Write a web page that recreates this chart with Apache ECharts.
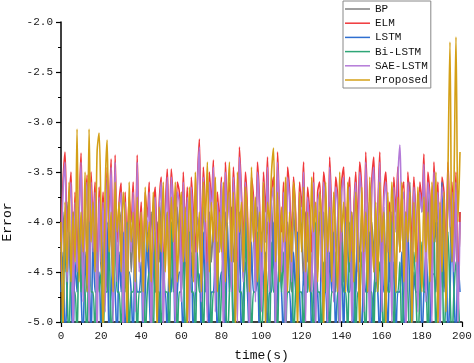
<!DOCTYPE html>
<html>
<head>
<meta charset="utf-8">
<script src="https://cdn.jsdelivr.net/npm/echarts@6/dist/echarts.min.js"></script>
<style>html,body{margin:0;padding:0;background:#fff}#c{width:474px;height:363px}</style>
</head>
<body>
<div id="c"></div>
<script>
const seriesNames = ['BP', 'ELM', 'LSTM', 'Bi-LSTM', 'SAE-LSTM', 'Proposed'];
const xTicks = [0, 20, 40, 60, 80, 100, 120, 140, 160, 180, 200];
const yTicks = [-5.0, -4.5, -4.0, -3.5, -3.0, -2.5, -2.0];

const bp = [
-4.3,-3.9,-4.5,-3.8,-4.2,-4.6,-3.9,-4.1,-4.5,-3.85,
-4.2,-4.6,-3.9,-4.3,-4.7,-3.8,-4.4,-4.0,-4.6,-3.9,
-4.5,-3.95,-4.3,-4.7,-3.85,-4.2,-4.6,-3.9,-4.4,-4.1,
-3.9,-4.6,-4.0,-4.4,-3.8,-4.5,-4.1,-4.7,-3.9,-4.3,
-4.0,-4.6,-3.85,-4.3,-4.5,-3.9,-4.2,-4.7,-4.0,-4.4,
-3.8,-4.5,-4.1,-3.9,-4.6,-4.0,-4.3,-4.7,-3.85,-4.2,
-4.5,-3.9,-4.4,-4.0,-4.7,-3.8,-4.3,-4.6,-3.95,-4.1,
-4.6,-3.85,-4.2,-4.5,-3.9,-4.4,-4.0,-4.7,-3.8,-4.3,
-4.0,-4.6,-3.9,-4.2,-4.5,-3.85,-4.4,-4.1,-4.7,-3.9,
-4.2,-4.6,-3.8,-4.3,-4.5,-3.9,-4.1,-4.6,-3.85,-4.3,
-4.6,-3.9,-4.2,-4.0,-4.7,-3.8,-4.4,-4.5,-3.9,-4.2,
-4.4,-3.85,-4.6,-4.0,-4.3,-4.7,-3.9,-4.2,-4.5,-3.8,
-4.1,-4.6,-3.9,-4.4,-4.0,-4.7,-3.85,-4.3,-4.5,-3.9,
-4.3,-3.9,-4.6,-4.1,-3.8,-4.5,-4.2,-4.7,-3.9,-4.4,
-4.0,-4.6,-3.85,-4.3,-4.5,-3.9,-4.2,-4.7,-4.0,-4.4,
-3.9,-4.5,-4.1,-3.8,-4.6,-4.0,-4.3,-4.7,-3.9,-4.2,
-4.5,-3.85,-4.4,-4.0,-4.6,-3.9,-4.2,-4.7,-3.8,-4.3,
-3.7,-4.5,-3.9,-4.2,-3.6,-4.4,-3.75,-4.1,-4.6,-3.65,
-3.9,-3.55,-4.3,-3.7,-4.5,-3.8,-3.6,-4.2,-3.75,-4.6,
-3.85,-4.1,-4.5,-3.7,-4.0,-4.4,-3.8,-4.2,-4.6,-3.9
];
const elm = [
-4.2,-3.6,-3.3,-4.1,-3.8,-3.5,-4.6,-3.7,-4.3,-3.9,
-3.31,-4.4,-3.9,-3.53,-4.7,-3.5,-4.0,-3.6,-4.8,-3.65,
-4.1,-3.7,-4.5,-3.45,-3.9,-3.37,-4.6,-3.33,-4.2,-3.8,
-3.61,-4.9,-3.7,-4.3,-3.75,-4.0,-3.6,-4.5,-3.33,-4.2,
-3.8,-4.6,-3.7,-3.95,-3.6,-5.1,-3.9,-3.65,-4.4,-3.8,
-3.55,-4.7,-3.9,-3.47,-4.2,-3.47,-3.85,-4.6,-3.6,-3.7,
-4.5,-3.5,-4.1,-3.65,-4.8,-3.55,-3.9,-4.3,-3.6,-3.17,
-4.4,-3.45,-3.9,-4.7,-3.5,-3.8,-3.38,-4.5,-3.7,-4.0,
-3.55,-4.9,-3.4,-3.85,-3.6,-4.3,-3.45,-3.95,-4.6,-3.25,
-3.7,-4.2,-3.5,-3.9,-4.8,-3.55,-3.75,-4.4,-3.4,-3.8,
-4.6,-3.5,-3.9,-3.35,-4.3,-3.7,-3.55,-4.7,-3.3,-3.85,
-4.1,-3.6,-4.9,-3.45,-3.7,-4.2,-3.55,-3.9,-4.5,-3.6,
-3.85,-3.4,-4.6,-3.65,-3.9,-4.3,-3.5,-4.8,-3.7,-3.6,
-4.2,-3.5,-3.8,-4.7,-3.35,-3.9,-4.4,-3.55,-3.75,-4.9,
-3.6,-3.45,-4.3,-3.8,-3.55,-4.6,-3.9,-3.5,-4.1,-3.4,
-3.7,-4.5,-3.3,-3.95,-4.8,-3.6,-3.35,-4.2,-3.85,-3.3,
-4.6,-3.7,-3.5,-4.0,-3.8,-4.7,-3.55,-3.9,-3.45,-4.3,
-3.7,-3.6,-4.9,-3.5,-3.85,-4.2,-3.55,-3.95,-4.5,-3.6,
-3.8,-3.32,-4.4,-3.5,-3.75,-4.6,-3.4,-3.9,-3.6,-4.8,
-3.55,-3.7,-4.3,-3.4,-3.95,-3.6,-4.2,-3.5,-4.7,-3.9
];
const lstm = [
-4.7,-4.3,-5.2,-4.7,-4.1,-4.7,-5.2,-4.4,-4.7,-4.0,
-4.7,-5.2,-4.3,-4.7,-4.6,-5.2,-4.1,-4.7,-4.7,-4.5,
-5.2,-4.2,-4.7,-4.0,-5.2,-4.7,-4.4,-4.7,-5.2,-4.3,
-4.7,-4.1,-5.2,-4.7,-4.5,-4.7,-5.2,-4.2,-4.7,-4.7,
-4.4,-5.2,-4.7,-4.0,-4.7,-5.2,-4.3,-4.7,-4.6,-5.2,
-4.1,-4.7,-4.7,-5.2,-4.4,-4.7,-4.2,-5.2,-4.7,-4.5,
-4.7,-5.2,-4.0,-4.7,-4.7,-4.3,-5.2,-4.7,-4.52,-4.52,
-5.2,-4.1,-4.7,-4.4,-5.2,-4.7,-4.7,-4.2,-5.2,-4.7,
-4.5,-4.7,-5.2,-4.0,-4.7,-4.3,-5.2,-4.7,-4.7,-4.1,
-5.2,-4.7,-4.4,-4.7,-5.2,-4.2,-4.7,-4.7,-4.5,-5.2,
-4.1,-4.7,-4.3,-5.2,-4.7,-4.7,-4.0,-5.2,-4.7,-4.4,
-4.7,-5.2,-4.2,-4.7,-4.7,-5.2,-4.3,-4.7,-4.1,-4.7,
-5.2,-4.5,-4.7,-4.7,-4.0,-5.2,-4.7,-4.4,-4.7,-5.2,
-4.2,-4.7,-4.7,-5.2,-4.3,-4.7,-4.1,-5.2,-4.7,-4.7,
-4.5,-5.2,-4.0,-4.7,-4.7,-4.3,-5.2,-4.7,-4.2,-4.7,
-5.2,-4.4,-4.7,-4.7,-4.1,-5.2,-4.7,-4.5,-4.7,-5.2,
-4.2,-4.7,-4.7,-5.2,-4.0,-4.7,-4.4,-5.2,-4.7,-4.7,
-4.3,-5.2,-4.7,-4.1,-4.7,-5.2,-4.5,-4.7,-4.7,-4.2,
-5.2,-4.7,-4.3,-4.7,-5.2,-4.52,-4.52,-4.7,-4.0,-5.2,
-3.6,-4.7,-4.3,-5.2,-4.7,-4.1,-4.7,-5.2,-4.4,-4.7
];
const bilstm = [
-5.2,-4.7,-4.2,-4.7,-5.2,-4.4,-4.7,-4.7,-5.2,-4.1,
-4.7,-4.3,-4.7,-5.2,-4.0,-4.7,-4.7,-5.2,-4.3,-4.7,
-4.5,-5.2,-4.7,-4.7,-4.2,-5.2,-4.7,-4.1,-4.7,-4.7,
-5.2,-4.4,-4.7,-4.0,-5.2,-4.7,-4.7,-4.3,-5.2,-4.7,
-4.7,-4.2,-5.2,-4.7,-4.5,-4.7,-5.2,-4.1,-4.7,-4.7,
-5.2,-4.3,-4.7,-4.7,-5.2,-4.0,-4.7,-4.4,-5.2,-4.7,
-4.7,-4.2,-5.2,-4.7,-4.1,-4.7,-4.7,-5.2,-4.3,-4.7,
-4.7,-5.2,-4.4,-4.7,-4.0,-5.2,-4.7,-4.7,-4.2,-5.2,
-4.7,-4.3,-4.7,-5.2,-4.7,-4.1,-5.2,-4.7,-4.4,-4.7,
-4.7,-5.2,-4.0,-4.7,-4.3,-5.2,-4.7,-4.7,-4.1,-4.7,
-5.2,-4.7,-4.4,-4.7,-5.2,-4.2,-4.7,-4.7,-5.2,-4.0,
-4.7,-4.3,-5.2,-4.7,-4.7,-4.1,-5.2,-4.7,-4.4,-4.7,
-4.7,-5.2,-4.2,-4.7,-4.3,-4.7,-5.2,-4.0,-4.7,-4.7,
-5.2,-4.4,-4.7,-4.1,-5.2,-4.7,-4.7,-4.3,-4.7,-5.2,
-4.2,-4.7,-4.7,-5.2,-4.0,-4.7,-4.4,-5.2,-4.7,-4.7,
-4.3,-4.7,-5.2,-4.1,-4.7,-4.7,-5.2,-4.2,-4.7,-4.4,
-4.7,-5.2,-4.3,-4.7,-4.7,-4.0,-5.2,-4.7,-4.7,-4.4,
-5.2,-4.7,-4.1,-4.7,-5.2,-4.7,-4.3,-4.7,-5.2,-4.7,
-4.2,-4.7,-4.7,-5.2,-4.4,-4.7,-4.0,-5.2,-4.7,-4.7,
-4.3,-5.2,-4.7,-4.1,-4.7,-5.2,-4.7,-4.4,-4.7,-5.2
];
const saelstm = [
-4.5,-3.7,-3.4,-4.6,-3.9,-3.6,-5.1,-3.8,-4.5,-4.0,
-3.4,-4.8,-4.0,-3.6,-5.0,-3.6,-4.3,-3.7,-5.2,-3.75,
-4.4,-3.8,-4.9,-3.55,-4.1,-3.45,-5.0,-3.4,-4.6,-3.9,
-3.7,-5.2,-3.8,-4.6,-3.85,-4.3,-3.7,-4.9,-3.4,-4.5,
-3.9,-5.0,-3.8,-4.1,-3.7,-5.2,-4.1,-3.75,-4.8,-3.9,
-3.6,-5.1,-4.1,-3.55,-4.5,-3.55,-3.95,-5.0,-3.7,-3.8,
-4.8,-3.6,-4.4,-3.75,-5.1,-3.65,-4.1,-4.7,-3.7,-3.25,
-4.8,-3.55,-4.2,-5.0,-3.6,-3.9,-3.45,-4.9,-3.8,-4.3,
-3.6,-5.2,-3.5,-4.0,-3.7,-4.7,-3.55,-4.1,-5.0,-3.35,
-3.8,-4.6,-3.6,-4.1,-5.1,-3.65,-3.85,-4.8,-3.5,-3.9,
-4.9,-3.6,-4.2,-3.45,-4.7,-3.8,-3.65,-5.1,-3.4,-3.95,
-4.5,-3.7,-5.2,-3.55,-3.8,-4.6,-3.65,-4.0,-4.9,-3.7,
-4.0,-3.5,-5.0,-3.75,-4.1,-4.7,-3.6,-5.1,-3.8,-3.7,
-4.6,-3.6,-3.9,-5.0,-3.45,-4.1,-4.8,-3.65,-3.85,-5.2,
-3.7,-3.55,-4.6,-3.9,-3.65,-5.0,-4.0,-3.6,-4.5,-3.5,
-3.8,-4.9,-3.4,-4.1,-5.1,-3.7,-3.45,-4.6,-3.95,-3.4,
-4.9,-3.8,-3.6,-4.3,-3.9,-5.0,-3.65,-4.1,-3.55,-3.23,
-3.8,-3.7,-5.2,-3.6,-3.95,-4.6,-3.65,-4.05,-4.9,-3.7,
-3.9,-3.42,-4.8,-3.6,-3.85,-5.0,-3.5,-4.0,-3.7,-5.1,
-3.65,-3.8,-4.6,-3.5,-4.05,-3.7,-4.5,-3.6,-5.0,-4.0
];
const proposed = [
-4.0,-5.1,-3.8,-4.5,-3.6,-4.6,-3.9,-4.4,-3.07,-4.6,
-3.9,-4.3,-3.5,-4.7,-3.07,-4.2,-3.8,-4.5,-3.3,-3.11,
-4.0,-5.1,-3.7,-3.18,-4.3,-3.9,-4.7,-3.6,-4.1,-3.8,
-4.5,-3.7,-4.0,-5.1,-3.6,-4.2,-3.9,-4.6,-3.75,-4.4,
-3.9,-4.7,-3.65,-4.3,-4.0,-4.6,-3.7,-4.2,-5.1,-3.85,
-4.3,-3.6,-4.5,-3.9,-4.7,-3.75,-4.2,-3.6,-4.6,-4.0,
-3.7,-4.4,-3.85,-5.1,-3.65,-4.1,-4.6,-3.5,-4.3,-3.9,
-4.7,-3.6,-4.0,-3.4,-4.5,-3.8,-4.2,-3.55,-4.7,-3.9,
-4.3,-3.6,-4.6,-3.85,-3.4,-4.4,-3.7,-5.1,-3.5,-4.1,
-3.8,-4.5,-3.65,-4.0,-4.7,-3.45,-4.2,-3.75,-4.6,-3.9,
-4.3,-3.6,-5.1,-3.8,-4.0,-3.5,-3.26,-4.4,-3.7,-4.6,
-3.85,-4.2,-3.55,-4.7,-3.9,-4.4,-3.6,-4.0,-5.1,-3.7,
-4.3,-3.65,-4.5,-3.9,-4.7,-3.55,-4.1,-3.8,-4.6,-3.7,
-4.0,-5.1,-3.6,-4.3,-3.85,-4.6,-3.7,-4.2,-4.7,-3.5,
-4.1,-3.8,-4.7,-3.6,-4.4,-3.9,-4.6,-3.7,-4.2,-5.1,
-3.65,-4.3,-3.9,-4.7,-3.55,-4.1,-4.5,-3.8,-4.7,-3.6,
-4.2,-3.9,-5.1,-3.7,-4.4,-3.6,-4.0,-4.7,-3.75,-4.3,
-3.6,-4.6,-3.9,-4.2,-3.7,-5.1,-3.8,-4.4,-3.65,-4.1,
-4.7,-3.75,-4.3,-3.9,-4.6,-3.6,-4.2,-3.5,-5.1,-3.8,
-4.5,-3.7,-4.9,-3.5,-2.2,-4.4,-3.6,-2.15,-4.0,-3.3
];

const colors = ['#7f7f7f', '#f0373a', '#2f6fd0', '#2fa677', '#b47ad8', '#d4a017'];
const allData = [bp, elm, lstm, bilstm, saelstm, proposed];
const FONT = 'Liberation Mono';

const chart = echarts.init(document.getElementById('c'), null, {renderer: 'canvas'});
chart.setOption({
  animation: false,
  backgroundColor: '#fff',
  color: colors,
  grid: {left: 61, right: 12, top: 22, bottom: 41, outerBoundsMode: 'none', containLabel: false},
  legend: {
    orient: 'vertical', left: 343, top: 1,
    padding: [2, 3, 2, 2],
    itemWidth: 25, itemHeight: 12, itemGap: 2.2,
    icon: 'path://M0,0 L50,0 L50,3 L0,3 Z',
    backgroundColor: '#fff', borderColor: '#888', borderWidth: 1,
    textStyle: {fontFamily: FONT, fontSize: 11, color: '#111', lineHeight: 12},
    data: seriesNames
  },
  xAxis: {
    type: 'value', min: xTicks[0], max: xTicks[xTicks.length - 1], interval: 20,
    name: 'time(s)', nameLocation: 'middle', nameGap: 27,
    nameTextStyle: {fontFamily: FONT, fontSize: 13, color: '#111'},
    axisLine: {lineStyle: {color: '#000', width: 1.5}},
    axisTick: {length: 5, lineStyle: {color: '#000', width: 1.2}},
    minorTick: {show: true, splitNumber: 2, length: 3, lineStyle: {color: '#000', width: 1}},
    splitLine: {show: false},
    axisLabel: {fontFamily: FONT, fontSize: 11, color: '#222', margin: 9}
  },
  yAxis: {
    type: 'value', min: yTicks[0], max: yTicks[yTicks.length - 1], interval: 0.5,
    name: 'Error', nameLocation: 'middle', nameGap: 47,
    nameTextStyle: {fontFamily: FONT, fontSize: 13, color: '#111', padding: [0, 100, 0, 0]},
    axisLine: {show: true, lineStyle: {color: '#000', width: 1.5}},
    axisTick: {show: true, length: 5, lineStyle: {color: '#000', width: 1.2}},
    minorTick: {show: true, splitNumber: 2, length: 3, lineStyle: {color: '#000', width: 1}},
    splitLine: {show: false},
    axisLabel: {fontFamily: FONT, fontSize: 11, color: '#222', margin: 8,
      formatter: v => v.toFixed(1)}
  },
  series: allData.map((arr, k) => ({
    name: seriesNames[k], type: 'line', symbol: 'none', smooth: 0.3,
    clip: true,
    lineStyle: {width: 1.6, color: colors[k]},
    itemStyle: {color: colors[k]},
    data: arr.map((v, i) => [i, v])
  }))
});
</script>
</body>
</html>
